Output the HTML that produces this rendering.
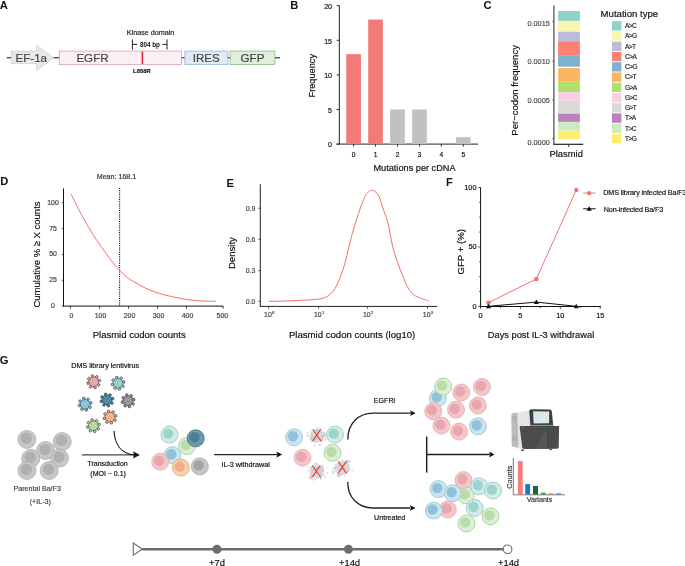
<!DOCTYPE html>
<html><head><meta charset="utf-8"><style>
html,body{margin:0;padding:0;background:#fff;overflow:hidden;}
svg{display:block;}
</style></head><body>
<svg width="685" height="566" viewBox="0 0 685 566" font-family="'Liberation Sans', Arial, sans-serif">
<rect width="685" height="566" fill="#fff"/>
<text x="-0.3" y="8.6" font-size="11.2" text-anchor="start" fill="#111" font-weight="bold">A</text>
<text x="290.3" y="8.7" font-size="11.2" text-anchor="start" fill="#111" font-weight="bold">B</text>
<text x="483.5" y="8.7" font-size="11.2" text-anchor="start" fill="#111" font-weight="bold">C</text>
<text x="0.3" y="185.4" font-size="11.2" text-anchor="start" fill="#111" font-weight="bold">D</text>
<text x="226.4" y="187.0" font-size="11.2" text-anchor="start" fill="#111" font-weight="bold">E</text>
<text x="446.1" y="185.6" font-size="11.2" text-anchor="start" fill="#111" font-weight="bold">F</text>
<text x="-0.2" y="364.2" font-size="11.2" text-anchor="start" fill="#111" font-weight="bold">G</text>
<line x1="6.8" y1="57.7" x2="12" y2="57.7" stroke="#555" stroke-width="1.4"/>
<path d="M11.3 51.2 H36.5 V45.2 L53.7 57.7 L36.5 70.4 V63.6 H11.3 Z" fill="#e8e8e8" stroke="#c4c4c4" stroke-width="0.6"/>
<text x="15.5" y="61.9" font-size="11.6" text-anchor="start" fill="#444" stroke="#444" stroke-width="0.18">EF-1a</text>
<line x1="53.5" y1="57.7" x2="59.4" y2="57.7" stroke="#555" stroke-width="1.4"/>
<rect x="59.4" y="51.1" width="122.1" height="13.5" fill="#fcf0f4" stroke="#d9aab9" stroke-width="0.9"/>
<text x="76.4" y="61.9" font-size="11.6" text-anchor="start" fill="#444" stroke="#444" stroke-width="0.18">EGFR</text>
<line x1="142.4" y1="51.6" x2="142.4" y2="64.1" stroke="#e8262f" stroke-width="1.6"/>
<text x="141.9" y="73.3" font-size="5.9" text-anchor="middle" fill="#111" font-weight="bold" stroke="#111" stroke-width="0.15">L858R</text>
<text x="126.8" y="35.3" font-size="7.2" text-anchor="start" fill="#222" stroke="#222" stroke-width="0.18">Kinase domain</text>
<line x1="132.4" y1="39.4" x2="132.4" y2="49.6" stroke="#222" stroke-width="1.0"/>
<line x1="132.4" y1="44.4" x2="137.2" y2="44.4" stroke="#222" stroke-width="1.0"/>
<line x1="162.4" y1="44.4" x2="167.0" y2="44.4" stroke="#222" stroke-width="1.0"/>
<line x1="167.0" y1="39.4" x2="167.0" y2="49.6" stroke="#222" stroke-width="1.0"/>
<text x="149.9" y="47.1" font-size="6.3" text-anchor="middle" fill="#111" font-weight="bold">804 bp</text>
<line x1="181.5" y1="57.7" x2="185" y2="57.7" stroke="#555" stroke-width="1.4"/>
<rect x="184.9" y="51.1" width="42.9" height="13.3" fill="#dfebf7" stroke="#9cbad9" stroke-width="0.9"/>
<text x="206.3" y="61.6" font-size="11.6" text-anchor="middle" fill="#444" stroke="#444" stroke-width="0.18">IRES</text>
<line x1="227.8" y1="57.7" x2="230.1" y2="57.7" stroke="#555" stroke-width="1.4"/>
<rect x="230.1" y="51.1" width="44.8" height="13.4" fill="#e0efda" stroke="#97c28d" stroke-width="0.9"/>
<text x="252.5" y="61.6" font-size="11.6" text-anchor="middle" fill="#444" stroke="#444" stroke-width="0.18">GFP</text>
<line x1="274.9" y1="57.7" x2="280" y2="57.7" stroke="#555" stroke-width="1.4"/>
<line x1="339.3" y1="5.3" x2="339.3" y2="144.1" stroke="#222" stroke-width="1"/>
<line x1="336.4" y1="144.1" x2="478" y2="144.1" stroke="#222" stroke-width="1"/>
<line x1="336.6" y1="144.1" x2="339.3" y2="144.1" stroke="#222" stroke-width="0.9"/>
<text x="332.0" y="147.29999999999998" font-size="7.0" text-anchor="end" fill="#111" stroke="#111" stroke-width="0.18">0</text>
<line x1="336.6" y1="109.5" x2="339.3" y2="109.5" stroke="#222" stroke-width="0.9"/>
<text x="332.0" y="112.7" font-size="7.0" text-anchor="end" fill="#111" stroke="#111" stroke-width="0.18">5</text>
<line x1="336.6" y1="74.89999999999999" x2="339.3" y2="74.89999999999999" stroke="#222" stroke-width="0.9"/>
<text x="332.0" y="78.1" font-size="7.0" text-anchor="end" fill="#111" stroke="#111" stroke-width="0.18">10</text>
<line x1="336.6" y1="40.3" x2="339.3" y2="40.3" stroke="#222" stroke-width="0.9"/>
<text x="332.0" y="43.5" font-size="7.0" text-anchor="end" fill="#111" stroke="#111" stroke-width="0.18">15</text>
<line x1="336.6" y1="5.699999999999989" x2="339.3" y2="5.699999999999989" stroke="#222" stroke-width="0.9"/>
<text x="332.0" y="8.899999999999988" font-size="7.0" text-anchor="end" fill="#111" stroke="#111" stroke-width="0.18">20</text>
<rect x="346.25" y="54.14" width="14.7" height="89.96" fill="#f27a77" stroke="none" stroke-width="0"/>
<line x1="353.6" y1="144.1" x2="353.6" y2="146.7" stroke="#222" stroke-width="0.9"/>
<text x="353.6" y="156.6" font-size="6.7" text-anchor="middle" fill="#111" stroke="#111" stroke-width="0.18">0</text>
<rect x="368.2" y="19.539999999999992" width="14.7" height="124.56" fill="#f27a77" stroke="none" stroke-width="0"/>
<line x1="375.55" y1="144.1" x2="375.55" y2="146.7" stroke="#222" stroke-width="0.9"/>
<text x="375.55" y="156.6" font-size="6.7" text-anchor="middle" fill="#111" stroke="#111" stroke-width="0.18">1</text>
<rect x="390.15" y="109.5" width="14.7" height="34.6" fill="#c2c0c1" stroke="none" stroke-width="0"/>
<line x1="397.5" y1="144.1" x2="397.5" y2="146.7" stroke="#222" stroke-width="0.9"/>
<text x="397.5" y="156.6" font-size="6.7" text-anchor="middle" fill="#111" stroke="#111" stroke-width="0.18">2</text>
<rect x="412.1" y="109.5" width="14.7" height="34.6" fill="#c2c0c1" stroke="none" stroke-width="0"/>
<line x1="419.45000000000005" y1="144.1" x2="419.45000000000005" y2="146.7" stroke="#222" stroke-width="0.9"/>
<text x="419.45000000000005" y="156.6" font-size="6.7" text-anchor="middle" fill="#111" stroke="#111" stroke-width="0.18">3</text>
<line x1="441.40000000000003" y1="144.1" x2="441.40000000000003" y2="146.7" stroke="#222" stroke-width="0.9"/>
<text x="441.40000000000003" y="156.6" font-size="6.7" text-anchor="middle" fill="#111" stroke="#111" stroke-width="0.18">4</text>
<rect x="456.0" y="137.18" width="14.7" height="6.92" fill="#c2c0c1" stroke="none" stroke-width="0"/>
<line x1="463.35" y1="144.1" x2="463.35" y2="146.7" stroke="#222" stroke-width="0.9"/>
<text x="463.35" y="156.6" font-size="6.7" text-anchor="middle" fill="#111" stroke="#111" stroke-width="0.18">5</text>
<text x="414.5" y="171.2" font-size="9.2" text-anchor="middle" fill="#111" stroke="#111" stroke-width="0.18">Mutations per cDNA</text>
<text x="314.8" y="75.7" font-size="9.2" text-anchor="middle" fill="#111" stroke="#111" stroke-width="0.18" transform="rotate(-90 314.8 75.7)">Frequency</text>
<line x1="553.9" y1="5.4" x2="553.9" y2="144.3" stroke="#555" stroke-width="1.3"/>
<line x1="553.3" y1="144.3" x2="583.3" y2="144.3" stroke="#222" stroke-width="1.2"/>
<line x1="568.8" y1="144.3" x2="568.8" y2="147" stroke="#222" stroke-width="0.9"/>
<line x1="552.5" y1="21.6" x2="553.9" y2="21.6" stroke="#333" stroke-width="0.9"/>
<text x="549.8" y="26.0" font-size="7.3" text-anchor="end" fill="#4d4d4d" stroke="#4d4d4d" stroke-width="0.18">0.0015</text>
<line x1="552.5" y1="61.2" x2="553.9" y2="61.2" stroke="#333" stroke-width="0.9"/>
<text x="549.8" y="63.5" font-size="7.3" text-anchor="end" fill="#4d4d4d" stroke="#4d4d4d" stroke-width="0.18">0.0010</text>
<line x1="552.5" y1="99.9" x2="553.9" y2="99.9" stroke="#333" stroke-width="0.9"/>
<text x="549.8" y="102.80000000000001" font-size="7.3" text-anchor="end" fill="#4d4d4d" stroke="#4d4d4d" stroke-width="0.18">0.0005</text>
<line x1="552.5" y1="138.5" x2="553.9" y2="138.5" stroke="#333" stroke-width="0.9"/>
<text x="549.8" y="144.9" font-size="7.3" text-anchor="end" fill="#4d4d4d" stroke="#4d4d4d" stroke-width="0.18">0.0000</text>
<rect x="558.1" y="11.0" width="21.8" height="9.899999999999999" fill="#8DD3C7" stroke="none" stroke-width="0"/>
<rect x="558.1" y="20.9" width="21.8" height="10.900000000000002" fill="#F9F6B2" stroke="none" stroke-width="0"/>
<rect x="558.1" y="31.8" width="21.8" height="9.499999999999996" fill="#BEBADA" stroke="none" stroke-width="0"/>
<rect x="558.1" y="41.3" width="21.8" height="14.5" fill="#FB8072" stroke="none" stroke-width="0"/>
<rect x="558.1" y="55.8" width="21.8" height="10.900000000000006" fill="#80B1D3" stroke="none" stroke-width="0"/>
<rect x="558.1" y="68.1" width="21.8" height="13.100000000000009" fill="#FDB462" stroke="none" stroke-width="0"/>
<rect x="558.1" y="81.2" width="21.8" height="11.0" fill="#B3DE69" stroke="none" stroke-width="0"/>
<rect x="558.1" y="92.2" width="21.8" height="8.399999999999991" fill="#FCCDE5" stroke="none" stroke-width="0"/>
<rect x="558.1" y="100.6" width="21.8" height="13.100000000000009" fill="#D9D9D9" stroke="none" stroke-width="0"/>
<rect x="558.1" y="113.7" width="21.8" height="8.200000000000003" fill="#BC80BD" stroke="none" stroke-width="0"/>
<rect x="558.1" y="121.9" width="21.8" height="8.799999999999983" fill="#CCEBC5" stroke="none" stroke-width="0"/>
<rect x="558.1" y="130.7" width="21.8" height="8.200000000000017" fill="#FFED6F" stroke="none" stroke-width="0"/>
<text x="566.2" y="157.1" font-size="9.4" text-anchor="middle" fill="#111" stroke="#111" stroke-width="0.18">Plasmid</text>
<text x="517.9" y="90.4" font-size="9.5" text-anchor="middle" fill="#111" stroke="#111" stroke-width="0.18" transform="rotate(-90 517.9 90.4)">Per−codon frequency</text>
<text x="600.6" y="16.5" font-size="9.6" text-anchor="start" fill="#111" stroke="#111" stroke-width="0.18">Mutation type</text>
<rect x="612" y="21.2" width="9.4" height="9.3" fill="#8DD3C7" stroke="none" stroke-width="0"/>
<text x="624.9" y="28.2" font-size="6.5" text-anchor="start" fill="#222" stroke="#222" stroke-width="0.18" letter-spacing="-0.45">A&gt;C</text>
<rect x="612" y="31.45" width="9.4" height="9.3" fill="#F9F6B2" stroke="none" stroke-width="0"/>
<text x="624.9" y="38.45" font-size="6.5" text-anchor="start" fill="#222" stroke="#222" stroke-width="0.18" letter-spacing="-0.45">A&gt;G</text>
<rect x="612" y="41.7" width="9.4" height="9.3" fill="#BEBADA" stroke="none" stroke-width="0"/>
<text x="624.9" y="48.7" font-size="6.5" text-anchor="start" fill="#222" stroke="#222" stroke-width="0.18" letter-spacing="-0.45">A&gt;T</text>
<rect x="612" y="51.95" width="9.4" height="9.3" fill="#FB8072" stroke="none" stroke-width="0"/>
<text x="624.9" y="58.95" font-size="6.5" text-anchor="start" fill="#222" stroke="#222" stroke-width="0.18" letter-spacing="-0.45">C&gt;A</text>
<rect x="612" y="62.2" width="9.4" height="9.3" fill="#80B1D3" stroke="none" stroke-width="0"/>
<text x="624.9" y="69.2" font-size="6.5" text-anchor="start" fill="#222" stroke="#222" stroke-width="0.18" letter-spacing="-0.45">C&gt;G</text>
<rect x="612" y="72.45" width="9.4" height="9.3" fill="#FDB462" stroke="none" stroke-width="0"/>
<text x="624.9" y="79.45" font-size="6.5" text-anchor="start" fill="#222" stroke="#222" stroke-width="0.18" letter-spacing="-0.45">C&gt;T</text>
<rect x="612" y="82.7" width="9.4" height="9.3" fill="#B3DE69" stroke="none" stroke-width="0"/>
<text x="624.9" y="89.7" font-size="6.5" text-anchor="start" fill="#222" stroke="#222" stroke-width="0.18" letter-spacing="-0.45">G&gt;A</text>
<rect x="612" y="92.95" width="9.4" height="9.3" fill="#FCCDE5" stroke="none" stroke-width="0"/>
<text x="624.9" y="99.95" font-size="6.5" text-anchor="start" fill="#222" stroke="#222" stroke-width="0.18" letter-spacing="-0.45">G&gt;C</text>
<rect x="612" y="103.2" width="9.4" height="9.3" fill="#D9D9D9" stroke="none" stroke-width="0"/>
<text x="624.9" y="110.2" font-size="6.5" text-anchor="start" fill="#222" stroke="#222" stroke-width="0.18" letter-spacing="-0.45">G&gt;T</text>
<rect x="612" y="113.45" width="9.4" height="9.3" fill="#BC80BD" stroke="none" stroke-width="0"/>
<text x="624.9" y="120.45" font-size="6.5" text-anchor="start" fill="#222" stroke="#222" stroke-width="0.18" letter-spacing="-0.45">T&gt;A</text>
<rect x="612" y="123.7" width="9.4" height="9.3" fill="#CCEBC5" stroke="none" stroke-width="0"/>
<text x="624.9" y="130.7" font-size="6.5" text-anchor="start" fill="#222" stroke="#222" stroke-width="0.18" letter-spacing="-0.45">T&gt;C</text>
<rect x="612" y="133.95" width="9.4" height="9.3" fill="#FFED6F" stroke="none" stroke-width="0"/>
<text x="624.9" y="140.95" font-size="6.5" text-anchor="start" fill="#222" stroke="#222" stroke-width="0.18" letter-spacing="-0.45">T&gt;G</text>
<line x1="63.5" y1="188.4" x2="63.5" y2="306.1" stroke="#111" stroke-width="1"/>
<line x1="63.0" y1="306.1" x2="223.1" y2="306.1" stroke="#111" stroke-width="1"/>
<line x1="223.1" y1="306.1" x2="223.1" y2="308.6" stroke="#111" stroke-width="0.9"/>
<line x1="61.9" y1="306.1" x2="63.5" y2="306.1" stroke="#111" stroke-width="0.8"/>
<text x="53.0" y="308.1" font-size="6.9" text-anchor="middle" fill="#444" stroke="#444" stroke-width="0.18">0</text>
<line x1="61.9" y1="280.26500000000004" x2="63.5" y2="280.26500000000004" stroke="#111" stroke-width="0.8"/>
<text x="53.0" y="282.26500000000004" font-size="6.9" text-anchor="middle" fill="#444" stroke="#444" stroke-width="0.18">25</text>
<line x1="61.9" y1="254.43" x2="63.5" y2="254.43" stroke="#111" stroke-width="0.8"/>
<text x="53.0" y="256.43" font-size="6.9" text-anchor="middle" fill="#444" stroke="#444" stroke-width="0.18">50</text>
<line x1="61.9" y1="228.59500000000003" x2="63.5" y2="228.59500000000003" stroke="#111" stroke-width="0.8"/>
<text x="53.0" y="230.59500000000003" font-size="6.9" text-anchor="middle" fill="#444" stroke="#444" stroke-width="0.18">75</text>
<line x1="61.9" y1="202.76000000000002" x2="63.5" y2="202.76000000000002" stroke="#111" stroke-width="0.8"/>
<text x="53.0" y="204.76000000000002" font-size="6.9" text-anchor="middle" fill="#444" stroke="#444" stroke-width="0.18">100</text>
<line x1="70.5" y1="306.1" x2="70.5" y2="308.6" stroke="#111" stroke-width="0.8"/>
<text x="71.5" y="317.7" font-size="6.9" text-anchor="middle" fill="#444" stroke="#444" stroke-width="0.18">0</text>
<line x1="99.5" y1="306.1" x2="99.5" y2="308.6" stroke="#111" stroke-width="0.8"/>
<text x="100.5" y="317.7" font-size="6.9" text-anchor="middle" fill="#444" stroke="#444" stroke-width="0.18">100</text>
<line x1="128.5" y1="306.1" x2="128.5" y2="308.6" stroke="#111" stroke-width="0.8"/>
<text x="129.5" y="317.7" font-size="6.9" text-anchor="middle" fill="#444" stroke="#444" stroke-width="0.18">200</text>
<line x1="157.5" y1="306.1" x2="157.5" y2="308.6" stroke="#111" stroke-width="0.8"/>
<text x="158.5" y="317.7" font-size="6.9" text-anchor="middle" fill="#444" stroke="#444" stroke-width="0.18">300</text>
<line x1="186.5" y1="306.1" x2="186.5" y2="308.6" stroke="#111" stroke-width="0.8"/>
<text x="187.5" y="317.7" font-size="6.9" text-anchor="middle" fill="#444" stroke="#444" stroke-width="0.18">400</text>
<text x="222.3" y="317.7" font-size="6.9" text-anchor="middle" fill="#444" stroke="#444" stroke-width="0.18">500</text>
<line x1="119.6" y1="188" x2="119.6" y2="306" stroke="#000" stroke-width="1.1" stroke-dasharray="1 1.2"/>
<text x="116.5" y="179.0" font-size="7.1" text-anchor="middle" fill="#333" stroke="#333" stroke-width="0.18">Mean: 168.1</text>
<path d="M71.0 194.0 C72.65 197.25 77.92 207.87 80.9 213.5 C83.88 219.13 86.25 223.30 88.9 227.8 C91.55 232.30 94.15 236.52 96.8 240.5 C99.45 244.48 102.15 248.07 104.8 251.7 C107.45 255.33 110.28 259.25 112.7 262.3 C115.12 265.35 117.25 267.80 119.3 270 C121.35 272.20 123.03 273.82 125 275.5 C126.97 277.18 127.42 277.87 131.1 280.1 C134.78 282.33 141.75 286.50 147.1 288.9 C152.45 291.30 157.85 292.97 163.2 294.5 C168.55 296.03 173.85 297.10 179.2 298.1 C184.55 299.10 189.18 299.95 195.3 300.5 C201.42 301.05 212.47 301.25 215.9 301.4" fill="none" stroke="#f26f6b" stroke-width="1.0"/>
<text x="139.2" y="337.6" font-size="9.5" text-anchor="middle" fill="#111" stroke="#111" stroke-width="0.18">Plasmid codon counts</text>
<text x="40.4" y="254.5" font-size="9.5" text-anchor="middle" fill="#111" stroke="#111" stroke-width="0.18" transform="rotate(-90 40.4 254.5)">Cumulative % ≥ X counts</text>
<line x1="260.3" y1="184.2" x2="260.3" y2="306.4" stroke="#222" stroke-width="1"/>
<line x1="259.8" y1="306.4" x2="437.2" y2="306.4" stroke="#222" stroke-width="1"/>
<line x1="258.4" y1="301.3" x2="260.3" y2="301.3" stroke="#222" stroke-width="0.8"/>
<text x="255.4" y="303.7" font-size="6.9" text-anchor="end" fill="#444" stroke="#444" stroke-width="0.18">0.0</text>
<line x1="258.4" y1="270.6" x2="260.3" y2="270.6" stroke="#222" stroke-width="0.8"/>
<text x="255.4" y="273.0" font-size="6.9" text-anchor="end" fill="#444" stroke="#444" stroke-width="0.18">0.3</text>
<line x1="258.4" y1="239.3" x2="260.3" y2="239.3" stroke="#222" stroke-width="0.8"/>
<text x="255.4" y="241.70000000000002" font-size="6.9" text-anchor="end" fill="#444" stroke="#444" stroke-width="0.18">0.6</text>
<line x1="258.4" y1="208.2" x2="260.3" y2="208.2" stroke="#222" stroke-width="0.8"/>
<text x="255.4" y="210.6" font-size="6.9" text-anchor="end" fill="#444" stroke="#444" stroke-width="0.18">0.9</text>
<line x1="268.7" y1="306.4" x2="268.7" y2="308.6" stroke="#222" stroke-width="0.8"/>
<text x="267.9" y="316.8" font-size="6.9" text-anchor="middle" fill="#444" stroke="#444" stroke-width="0.18">10</text>
<text x="272.0" y="314.0" font-size="4.2" text-anchor="start" fill="#444" stroke="#444" stroke-width="0.18">0</text>
<line x1="318.6" y1="306.4" x2="318.6" y2="308.6" stroke="#222" stroke-width="0.8"/>
<text x="317.8" y="316.8" font-size="6.9" text-anchor="middle" fill="#444" stroke="#444" stroke-width="0.18">10</text>
<text x="321.90000000000003" y="314.0" font-size="4.2" text-anchor="start" fill="#444" stroke="#444" stroke-width="0.18">1</text>
<line x1="367.6" y1="306.4" x2="367.6" y2="308.6" stroke="#222" stroke-width="0.8"/>
<text x="366.8" y="316.8" font-size="6.9" text-anchor="middle" fill="#444" stroke="#444" stroke-width="0.18">10</text>
<text x="370.90000000000003" y="314.0" font-size="4.2" text-anchor="start" fill="#444" stroke="#444" stroke-width="0.18">2</text>
<line x1="427.5" y1="306.4" x2="427.5" y2="308.6" stroke="#222" stroke-width="0.8"/>
<text x="426.7" y="316.8" font-size="6.9" text-anchor="middle" fill="#444" stroke="#444" stroke-width="0.18">10</text>
<text x="430.8" y="314.0" font-size="4.2" text-anchor="start" fill="#444" stroke="#444" stroke-width="0.18">3</text>
<path d="M268.7 301.3 C270.58 301.28 276.45 301.28 280 301.2 C283.55 301.12 286.67 300.93 290 300.8 C293.33 300.67 296.67 300.55 300 300.4 C303.33 300.25 306.80 300.13 310 299.9 C313.20 299.67 316.52 299.47 319.2 299 C321.88 298.53 323.80 298.37 326.1 297.1 C328.40 295.83 330.90 294.07 333 291.4 C335.10 288.73 336.80 285.50 338.7 281.1 C340.60 276.70 342.68 270.75 344.4 265 C346.12 259.25 347.65 251.97 349 246.6 C350.35 241.23 350.97 238.17 352.5 232.8 C354.03 227.43 356.10 220.52 358.2 214.4 C360.30 208.28 363.22 199.92 365.1 196.1 C366.98 192.28 368.35 192.47 369.5 191.5 C370.65 190.53 371.08 190.30 372 190.3 C372.92 190.30 373.85 190.53 375 191.5 C376.15 192.47 377.48 193.03 378.9 196.1 C380.32 199.17 381.97 205.32 383.5 209.9 C385.03 214.48 386.57 217.48 388.1 223.6 C389.63 229.72 391.17 240.28 392.7 246.6 C394.23 252.92 395.58 256.52 397.3 261.5 C399.02 266.48 401.08 271.90 403 276.5 C404.92 281.10 406.70 285.85 408.8 289.1 C410.90 292.35 412.27 294.03 415.6 296 C418.93 297.97 426.60 300.08 428.8 300.9" fill="none" stroke="#f26f6b" stroke-width="1.0"/>
<text x="352.1" y="337.5" font-size="9.6" text-anchor="middle" fill="#111" stroke="#111" stroke-width="0.18">Plasmid codon counts (log10)</text>
<text x="235.3" y="253.1" font-size="9.6" text-anchor="middle" fill="#111" stroke="#111" stroke-width="0.18" transform="rotate(-90 235.3 253.1)">Density</text>
<line x1="480.6" y1="187.4" x2="480.6" y2="306.5" stroke="#111" stroke-width="1"/>
<line x1="480.6" y1="306.5" x2="600.8" y2="306.5" stroke="#111" stroke-width="1"/>
<line x1="478.4" y1="306.3" x2="480.6" y2="306.3" stroke="#111" stroke-width="0.8"/>
<line x1="479.2" y1="291.45" x2="480.6" y2="291.45" stroke="#111" stroke-width="0.8"/>
<line x1="479.2" y1="276.6" x2="480.6" y2="276.6" stroke="#111" stroke-width="0.8"/>
<line x1="479.2" y1="261.75" x2="480.6" y2="261.75" stroke="#111" stroke-width="0.8"/>
<line x1="478.4" y1="246.9" x2="480.6" y2="246.9" stroke="#111" stroke-width="0.8"/>
<line x1="479.2" y1="232.05" x2="480.6" y2="232.05" stroke="#111" stroke-width="0.8"/>
<line x1="479.2" y1="217.20000000000002" x2="480.6" y2="217.20000000000002" stroke="#111" stroke-width="0.8"/>
<line x1="479.2" y1="202.35000000000002" x2="480.6" y2="202.35000000000002" stroke="#111" stroke-width="0.8"/>
<line x1="478.4" y1="187.5" x2="480.6" y2="187.5" stroke="#111" stroke-width="0.8"/>
<text x="476.5" y="308.7" font-size="7.3" text-anchor="end" fill="#111" stroke="#111" stroke-width="0.18">0</text>
<text x="476.5" y="249.3" font-size="7.3" text-anchor="end" fill="#111" stroke="#111" stroke-width="0.18">50</text>
<text x="476.5" y="189.9" font-size="7.3" text-anchor="end" fill="#111" stroke="#111" stroke-width="0.18">100</text>
<line x1="480.5" y1="306.5" x2="480.5" y2="308.8" stroke="#111" stroke-width="0.8"/>
<line x1="500.45" y1="306.5" x2="500.45" y2="308.0" stroke="#111" stroke-width="0.8"/>
<line x1="520.4" y1="306.5" x2="520.4" y2="308.8" stroke="#111" stroke-width="0.8"/>
<line x1="540.35" y1="306.5" x2="540.35" y2="308.0" stroke="#111" stroke-width="0.8"/>
<line x1="560.3" y1="306.5" x2="560.3" y2="308.8" stroke="#111" stroke-width="0.8"/>
<line x1="580.25" y1="306.5" x2="580.25" y2="308.0" stroke="#111" stroke-width="0.8"/>
<line x1="600.2" y1="306.5" x2="600.2" y2="308.8" stroke="#111" stroke-width="0.8"/>
<text x="480.5" y="317.7" font-size="7.3" text-anchor="middle" fill="#111" stroke="#111" stroke-width="0.18">0</text>
<text x="520.4" y="317.7" font-size="7.3" text-anchor="middle" fill="#111" stroke="#111" stroke-width="0.18">5</text>
<text x="560.3" y="317.7" font-size="7.3" text-anchor="middle" fill="#111" stroke="#111" stroke-width="0.18">10</text>
<text x="600.2" y="317.7" font-size="7.3" text-anchor="middle" fill="#111" stroke="#111" stroke-width="0.18">15</text>
<polyline points="488.5,302.7 536.4,279.0 576.3,189.9" fill="none" stroke="#f07472" stroke-width="1"/>
<polyline points="488.5,306.3 536.4,302.1 576.3,306.3" fill="none" stroke="#111" stroke-width="1"/>
<circle cx="488.5" cy="302.7" r="2.2" fill="#f07472"/>
<circle cx="536.4" cy="279.0" r="2.2" fill="#f07472"/>
<circle cx="576.3" cy="189.9" r="2.2" fill="#f07472"/>
<path d="M488.48 303.7 L491.08000000000004 308.25 L485.88 308.25 Z" fill="#111"/>
<path d="M536.36 299.542 L538.96 304.092 L533.76 304.092 Z" fill="#111"/>
<path d="M576.26 303.7 L578.86 308.25 L573.66 308.25 Z" fill="#111"/>
<line x1="583.2" y1="193.1" x2="595.6" y2="193.1" stroke="#f07472" stroke-width="1"/>
<circle cx="589.2" cy="193.1" r="2.2" fill="#f07472"/>
<line x1="583.2" y1="208.8" x2="595.6" y2="208.8" stroke="#111" stroke-width="1"/>
<path d="M589.2 206.20000000000002 L591.8000000000001 210.75 L586.6 210.75 Z" fill="#111"/>
<text x="603.2" y="195.3" font-size="7.2" text-anchor="start" fill="#111" stroke="#111" stroke-width="0.18" letter-spacing="-0.1">DMS library infected Ba/F3</text>
<text x="603.8" y="211.5" font-size="7.2" text-anchor="start" fill="#111" stroke="#111" stroke-width="0.18" letter-spacing="-0.15">Non-infected Ba/F3</text>
<text x="541.0" y="337.5" font-size="9.3" text-anchor="middle" fill="#111" stroke="#111" stroke-width="0.18">Days post IL-3 withdrawal</text>
<text x="463.6" y="251.8" font-size="9.6" text-anchor="middle" fill="#111" stroke="#111" stroke-width="0.18" transform="rotate(-90 463.6 251.8)">GFP + (%)</text>
<text x="71.2" y="368.0" font-size="7.2" text-anchor="start" fill="#111" stroke="#111" stroke-width="0.18">DMS library lentivirus</text>
<circle cx="93.7" cy="381.8" r="5.2" fill="#eaa8ae" stroke="#505050" stroke-width="0.35"/>
<rect x="91.20" y="374.95" width="2.4" height="2.4" rx="0.5" fill="#eaa8ae" stroke="#333" stroke-width="0.6" transform="rotate(-103 92.40 376.15)"/><rect x="95.57" y="375.68" width="2.4" height="2.4" rx="0.5" fill="#eaa8ae" stroke="#333" stroke-width="0.6" transform="rotate(-58 96.77 376.88)"/><rect x="98.15" y="379.30" width="2.4" height="2.4" rx="0.5" fill="#eaa8ae" stroke="#333" stroke-width="0.6" transform="rotate(-13 99.35 380.50)"/><rect x="97.42" y="383.67" width="2.4" height="2.4" rx="0.5" fill="#eaa8ae" stroke="#333" stroke-width="0.6" transform="rotate(32 98.62 384.87)"/><rect x="93.80" y="386.25" width="2.4" height="2.4" rx="0.5" fill="#eaa8ae" stroke="#333" stroke-width="0.6" transform="rotate(77 95.00 387.45)"/><rect x="89.43" y="385.52" width="2.4" height="2.4" rx="0.5" fill="#eaa8ae" stroke="#333" stroke-width="0.6" transform="rotate(122 90.63 386.72)"/><rect x="86.85" y="381.90" width="2.4" height="2.4" rx="0.5" fill="#eaa8ae" stroke="#333" stroke-width="0.6" transform="rotate(167 88.05 383.10)"/><rect x="87.58" y="377.53" width="2.4" height="2.4" rx="0.5" fill="#eaa8ae" stroke="#333" stroke-width="0.6" transform="rotate(212 88.78 378.73)"/>
<circle cx="118.1" cy="383.2" r="5.2" fill="#97d1cb" stroke="#505050" stroke-width="0.35"/>
<rect x="115.60" y="376.35" width="2.4" height="2.4" rx="0.5" fill="#97d1cb" stroke="#333" stroke-width="0.6" transform="rotate(-103 116.80 377.55)"/><rect x="119.97" y="377.08" width="2.4" height="2.4" rx="0.5" fill="#97d1cb" stroke="#333" stroke-width="0.6" transform="rotate(-58 121.17 378.28)"/><rect x="122.55" y="380.70" width="2.4" height="2.4" rx="0.5" fill="#97d1cb" stroke="#333" stroke-width="0.6" transform="rotate(-13 123.75 381.90)"/><rect x="121.82" y="385.07" width="2.4" height="2.4" rx="0.5" fill="#97d1cb" stroke="#333" stroke-width="0.6" transform="rotate(32 123.02 386.27)"/><rect x="118.20" y="387.65" width="2.4" height="2.4" rx="0.5" fill="#97d1cb" stroke="#333" stroke-width="0.6" transform="rotate(77 119.40 388.85)"/><rect x="113.83" y="386.92" width="2.4" height="2.4" rx="0.5" fill="#97d1cb" stroke="#333" stroke-width="0.6" transform="rotate(122 115.03 388.12)"/><rect x="111.25" y="383.30" width="2.4" height="2.4" rx="0.5" fill="#97d1cb" stroke="#333" stroke-width="0.6" transform="rotate(167 112.45 384.50)"/><rect x="111.98" y="378.93" width="2.4" height="2.4" rx="0.5" fill="#97d1cb" stroke="#333" stroke-width="0.6" transform="rotate(212 113.18 380.13)"/>
<circle cx="107.0" cy="400.0" r="5.2" fill="#4f8aa0" stroke="#505050" stroke-width="0.35"/>
<rect x="104.50" y="393.15" width="2.4" height="2.4" rx="0.5" fill="#4f8aa0" stroke="#333" stroke-width="0.6" transform="rotate(-103 105.70 394.35)"/><rect x="108.87" y="393.88" width="2.4" height="2.4" rx="0.5" fill="#4f8aa0" stroke="#333" stroke-width="0.6" transform="rotate(-58 110.07 395.08)"/><rect x="111.45" y="397.50" width="2.4" height="2.4" rx="0.5" fill="#4f8aa0" stroke="#333" stroke-width="0.6" transform="rotate(-13 112.65 398.70)"/><rect x="110.72" y="401.87" width="2.4" height="2.4" rx="0.5" fill="#4f8aa0" stroke="#333" stroke-width="0.6" transform="rotate(32 111.92 403.07)"/><rect x="107.10" y="404.45" width="2.4" height="2.4" rx="0.5" fill="#4f8aa0" stroke="#333" stroke-width="0.6" transform="rotate(77 108.30 405.65)"/><rect x="102.73" y="403.72" width="2.4" height="2.4" rx="0.5" fill="#4f8aa0" stroke="#333" stroke-width="0.6" transform="rotate(122 103.93 404.92)"/><rect x="100.15" y="400.10" width="2.4" height="2.4" rx="0.5" fill="#4f8aa0" stroke="#333" stroke-width="0.6" transform="rotate(167 101.35 401.30)"/><rect x="100.88" y="395.73" width="2.4" height="2.4" rx="0.5" fill="#4f8aa0" stroke="#333" stroke-width="0.6" transform="rotate(212 102.08 396.93)"/>
<circle cx="128.1" cy="400.8" r="5.2" fill="#9a9a9a" stroke="#505050" stroke-width="0.35"/>
<rect x="125.60" y="393.95" width="2.4" height="2.4" rx="0.5" fill="#9a9a9a" stroke="#333" stroke-width="0.6" transform="rotate(-103 126.80 395.15)"/><rect x="129.97" y="394.68" width="2.4" height="2.4" rx="0.5" fill="#9a9a9a" stroke="#333" stroke-width="0.6" transform="rotate(-58 131.17 395.88)"/><rect x="132.55" y="398.30" width="2.4" height="2.4" rx="0.5" fill="#9a9a9a" stroke="#333" stroke-width="0.6" transform="rotate(-13 133.75 399.50)"/><rect x="131.82" y="402.67" width="2.4" height="2.4" rx="0.5" fill="#9a9a9a" stroke="#333" stroke-width="0.6" transform="rotate(32 133.02 403.87)"/><rect x="128.20" y="405.25" width="2.4" height="2.4" rx="0.5" fill="#9a9a9a" stroke="#333" stroke-width="0.6" transform="rotate(77 129.40 406.45)"/><rect x="123.83" y="404.52" width="2.4" height="2.4" rx="0.5" fill="#9a9a9a" stroke="#333" stroke-width="0.6" transform="rotate(122 125.03 405.72)"/><rect x="121.25" y="400.90" width="2.4" height="2.4" rx="0.5" fill="#9a9a9a" stroke="#333" stroke-width="0.6" transform="rotate(167 122.45 402.10)"/><rect x="121.98" y="396.53" width="2.4" height="2.4" rx="0.5" fill="#9a9a9a" stroke="#333" stroke-width="0.6" transform="rotate(212 123.18 397.73)"/>
<circle cx="85.1" cy="404.2" r="5.2" fill="#8ac4dd" stroke="#505050" stroke-width="0.35"/>
<rect x="82.60" y="397.35" width="2.4" height="2.4" rx="0.5" fill="#8ac4dd" stroke="#333" stroke-width="0.6" transform="rotate(-103 83.80 398.55)"/><rect x="86.97" y="398.08" width="2.4" height="2.4" rx="0.5" fill="#8ac4dd" stroke="#333" stroke-width="0.6" transform="rotate(-58 88.17 399.28)"/><rect x="89.55" y="401.70" width="2.4" height="2.4" rx="0.5" fill="#8ac4dd" stroke="#333" stroke-width="0.6" transform="rotate(-13 90.75 402.90)"/><rect x="88.82" y="406.07" width="2.4" height="2.4" rx="0.5" fill="#8ac4dd" stroke="#333" stroke-width="0.6" transform="rotate(32 90.02 407.27)"/><rect x="85.20" y="408.65" width="2.4" height="2.4" rx="0.5" fill="#8ac4dd" stroke="#333" stroke-width="0.6" transform="rotate(77 86.40 409.85)"/><rect x="80.83" y="407.92" width="2.4" height="2.4" rx="0.5" fill="#8ac4dd" stroke="#333" stroke-width="0.6" transform="rotate(122 82.03 409.12)"/><rect x="78.25" y="404.30" width="2.4" height="2.4" rx="0.5" fill="#8ac4dd" stroke="#333" stroke-width="0.6" transform="rotate(167 79.45 405.50)"/><rect x="78.98" y="399.93" width="2.4" height="2.4" rx="0.5" fill="#8ac4dd" stroke="#333" stroke-width="0.6" transform="rotate(212 80.18 401.13)"/>
<circle cx="110.0" cy="417.1" r="5.2" fill="#f6b48a" stroke="#505050" stroke-width="0.35"/>
<rect x="107.50" y="410.25" width="2.4" height="2.4" rx="0.5" fill="#f6b48a" stroke="#333" stroke-width="0.6" transform="rotate(-103 108.70 411.45)"/><rect x="111.87" y="410.98" width="2.4" height="2.4" rx="0.5" fill="#f6b48a" stroke="#333" stroke-width="0.6" transform="rotate(-58 113.07 412.18)"/><rect x="114.45" y="414.60" width="2.4" height="2.4" rx="0.5" fill="#f6b48a" stroke="#333" stroke-width="0.6" transform="rotate(-13 115.65 415.80)"/><rect x="113.72" y="418.97" width="2.4" height="2.4" rx="0.5" fill="#f6b48a" stroke="#333" stroke-width="0.6" transform="rotate(32 114.92 420.17)"/><rect x="110.10" y="421.55" width="2.4" height="2.4" rx="0.5" fill="#f6b48a" stroke="#333" stroke-width="0.6" transform="rotate(77 111.30 422.75)"/><rect x="105.73" y="420.82" width="2.4" height="2.4" rx="0.5" fill="#f6b48a" stroke="#333" stroke-width="0.6" transform="rotate(122 106.93 422.02)"/><rect x="103.15" y="417.20" width="2.4" height="2.4" rx="0.5" fill="#f6b48a" stroke="#333" stroke-width="0.6" transform="rotate(167 104.35 418.40)"/><rect x="103.88" y="412.83" width="2.4" height="2.4" rx="0.5" fill="#f6b48a" stroke="#333" stroke-width="0.6" transform="rotate(212 105.08 414.03)"/>
<circle cx="93.4" cy="425.7" r="5.2" fill="#b3d8a5" stroke="#505050" stroke-width="0.35"/>
<rect x="90.90" y="418.85" width="2.4" height="2.4" rx="0.5" fill="#b3d8a5" stroke="#333" stroke-width="0.6" transform="rotate(-103 92.10 420.05)"/><rect x="95.27" y="419.58" width="2.4" height="2.4" rx="0.5" fill="#b3d8a5" stroke="#333" stroke-width="0.6" transform="rotate(-58 96.47 420.78)"/><rect x="97.85" y="423.20" width="2.4" height="2.4" rx="0.5" fill="#b3d8a5" stroke="#333" stroke-width="0.6" transform="rotate(-13 99.05 424.40)"/><rect x="97.12" y="427.57" width="2.4" height="2.4" rx="0.5" fill="#b3d8a5" stroke="#333" stroke-width="0.6" transform="rotate(32 98.32 428.77)"/><rect x="93.50" y="430.15" width="2.4" height="2.4" rx="0.5" fill="#b3d8a5" stroke="#333" stroke-width="0.6" transform="rotate(77 94.70 431.35)"/><rect x="89.13" y="429.42" width="2.4" height="2.4" rx="0.5" fill="#b3d8a5" stroke="#333" stroke-width="0.6" transform="rotate(122 90.33 430.62)"/><rect x="86.55" y="425.80" width="2.4" height="2.4" rx="0.5" fill="#b3d8a5" stroke="#333" stroke-width="0.6" transform="rotate(167 87.75 427.00)"/><rect x="87.28" y="421.43" width="2.4" height="2.4" rx="0.5" fill="#b3d8a5" stroke="#333" stroke-width="0.6" transform="rotate(212 88.48 422.63)"/>
<circle cx="26.9" cy="439.4" r="9.0" fill="#c7c7c7" stroke="#adadad" stroke-width="0.8"/>
<circle cx="26.3" cy="438.3" r="5.7" fill="#b0b0ad"/>
<circle cx="62.2" cy="441.6" r="9.0" fill="#c7c7c7" stroke="#adadad" stroke-width="0.8"/>
<circle cx="61.6" cy="440.5" r="5.7" fill="#b0b0ad"/>
<circle cx="45.5" cy="450.5" r="9.0" fill="#c7c7c7" stroke="#adadad" stroke-width="0.8"/>
<circle cx="44.9" cy="449.4" r="5.7" fill="#b0b0ad"/>
<circle cx="30.8" cy="458.3" r="9.0" fill="#c7c7c7" stroke="#adadad" stroke-width="0.8"/>
<circle cx="30.2" cy="457.2" r="5.7" fill="#b0b0ad"/>
<circle cx="59.5" cy="458.1" r="9.0" fill="#c7c7c7" stroke="#adadad" stroke-width="0.8"/>
<circle cx="58.9" cy="457.0" r="5.7" fill="#b0b0ad"/>
<circle cx="26.9" cy="470.5" r="9.0" fill="#c7c7c7" stroke="#adadad" stroke-width="0.8"/>
<circle cx="26.3" cy="469.4" r="5.7" fill="#b0b0ad"/>
<circle cx="49.2" cy="470.5" r="9.0" fill="#c7c7c7" stroke="#adadad" stroke-width="0.8"/>
<circle cx="48.6" cy="469.4" r="5.7" fill="#b0b0ad"/>
<text x="37.2" y="490.7" font-size="7.1" text-anchor="middle" fill="#444" stroke="#444" stroke-width="0.18">Parental Ba/F3</text>
<text x="40.3" y="504.3" font-size="7.1" text-anchor="middle" fill="#444" stroke="#444" stroke-width="0.18">(+IL-3)</text>
<line x1="81.9" y1="454.9" x2="134.5" y2="454.9" stroke="#444" stroke-width="1.3"/>
<path d="M114.1 430.9 C114.6 444 121 453.5 134.5 454.9" fill="none" stroke="#111" stroke-width="1.1"/>
<path d="M139.9 454.9 L132.9 451.2 L134.20000000000002 454.9 L132.9 458.59999999999997 Z" fill="#111"/>
<text x="107.6" y="466.4" font-size="7.0" text-anchor="middle" fill="#111" stroke="#111" stroke-width="0.18">Transduction</text>
<text x="108.1" y="476.0" font-size="7.0" text-anchor="middle" fill="#111" stroke="#111" stroke-width="0.18">(MOI ~ 0.1)</text>
<circle cx="169.4" cy="434.6" r="8.5" fill="#d4ebe8" stroke="#86ccc1" stroke-width="0.8"/>
<circle cx="168.2" cy="433.6" r="5.2" fill="#9fd3ce"/>
<circle cx="187.0" cy="446.0" r="8.5" fill="#dcefd5" stroke="#9ccd8e" stroke-width="0.8"/>
<circle cx="185.8" cy="445.0" r="5.2" fill="#b9dcab"/>
<circle cx="195.7" cy="438.3" r="8.5" fill="#6b9cae" stroke="#3f6c7e" stroke-width="0.8"/>
<circle cx="194.5" cy="437.3" r="5.2" fill="#4b8096"/>
<circle cx="172.5" cy="455.2" r="8.5" fill="#cbe4ee" stroke="#94c1d4" stroke-width="0.8"/>
<circle cx="171.3" cy="454.2" r="5.2" fill="#8ec3d9"/>
<circle cx="160.2" cy="461.7" r="8.5" fill="#f4c6ca" stroke="#e6a9b0" stroke-width="0.8"/>
<circle cx="159.0" cy="460.7" r="5.2" fill="#e8a7ad"/>
<circle cx="180.9" cy="467.6" r="8.5" fill="#f6d1a9" stroke="#e3a86f" stroke-width="0.8"/>
<circle cx="179.7" cy="466.6" r="5.2" fill="#f3ae86"/>
<circle cx="199.8" cy="466.4" r="8.5" fill="#c6c6c6" stroke="#a8a8a8" stroke-width="0.8"/>
<circle cx="198.6" cy="465.4" r="5.2" fill="#a4a4a4"/>
<line x1="214.1" y1="454.6" x2="278" y2="454.6" stroke="#222" stroke-width="1.3"/>
<path d="M282.1 454.6 L276.3 451.40000000000003 L277.6 454.6 L276.3 457.8 Z" fill="#111"/>
<text x="245.6" y="466.6" font-size="7.2" text-anchor="middle" fill="#111" stroke="#111" stroke-width="0.18">IL-3 withdrawal</text>
<ellipse cx="317.1" cy="435.7" rx="7.2" ry="6.8" fill="#d4d6d8"/><circle cx="321.23" cy="440.15" r="2.07" fill="#d9dbdc"/><circle cx="321.22" cy="439.25" r="1.66" fill="#c6c8ca"/><circle cx="316.98" cy="434.72" r="1.04" fill="#c6c8ca"/><circle cx="311.32" cy="437.74" r="1.00" fill="#c6c8ca"/><circle cx="316.15" cy="441.38" r="1.83" fill="#d2d4d6"/><circle cx="317.00" cy="435.27" r="1.04" fill="#dfe0e1"/><circle cx="323.73" cy="435.78" r="1.96" fill="#c6c8ca"/><circle cx="316.17" cy="431.49" r="2.07" fill="#c6c8ca"/><circle cx="314.23" cy="434.55" r="1.95" fill="#c6c8ca"/><circle cx="323.77" cy="433.35" r="1.58" fill="#dfe0e1"/><circle cx="317.50" cy="435.05" r="1.88" fill="#d9dbdc"/><circle cx="318.70" cy="437.12" r="2.01" fill="#dfe0e1"/><circle cx="319.86" cy="434.17" r="2.16" fill="#cbcdcf"/><circle cx="315.28" cy="439.56" r="2.24" fill="#dfe0e1"/><circle cx="311.53" cy="439.37" r="1.67" fill="#c6c8ca"/><circle cx="315.63" cy="436.07" r="1.77" fill="#d9dbdc"/><circle cx="321.27" cy="437.97" r="1.15" fill="#cbcdcf"/><circle cx="313.73" cy="435.01" r="1.69" fill="#d2d4d6"/><circle cx="314.42" cy="435.84" r="2.19" fill="#dfe0e1"/><circle cx="314.22" cy="433.77" r="1.24" fill="#dfe0e1"/><circle cx="316.81" cy="435.49" r="1.28" fill="#dfe0e1"/><circle cx="317.25" cy="439.23" r="2.33" fill="#dfe0e1"/><circle cx="312.47" cy="440.84" r="1.92" fill="#dfe0e1"/><circle cx="316.84" cy="435.39" r="2.10" fill="#dfe0e1"/><circle cx="318.28" cy="431.78" r="1.79" fill="#c6c8ca"/><circle cx="320.40" cy="434.28" r="1.51" fill="#dfe0e1"/><circle cx="318.03" cy="439.00" r="1.68" fill="#d9dbdc"/><circle cx="316.79" cy="435.41" r="1.76" fill="#dfe0e1"/><circle cx="314.49" cy="439.33" r="2.13" fill="#cbcdcf"/><circle cx="315.45" cy="434.97" r="1.13" fill="#dfe0e1"/><circle cx="318.67" cy="429.54" r="1.36" fill="#d2d4d6"/><circle cx="316.91" cy="435.46" r="1.02" fill="#d9dbdc"/><circle cx="316.80" cy="436.22" r="1.87" fill="#d9dbdc"/><circle cx="316.47" cy="436.62" r="1.36" fill="#cbcdcf"/><circle cx="313.97" cy="431.35" r="1.41" fill="#d9dbdc"/><circle cx="315.90" cy="435.42" r="1.44" fill="#d9dbdc"/><circle cx="315.50" cy="436.07" r="1.15" fill="#dfe0e1"/><circle cx="324.32" cy="434.35" r="1.60" fill="#d2d4d6"/><circle cx="317.28" cy="438.34" r="1.05" fill="#cbcdcf"/><circle cx="313.04" cy="436.67" r="1.60" fill="#cbcdcf"/><rect x="326.75" y="434.13" width="1.39" height="1.39" fill="#c4c6c8"/><rect x="318.49" y="444.13" width="1.18" height="1.18" fill="#d6d8da"/><rect x="320.14" y="427.02" width="1.20" height="1.20" fill="#d6d8da"/><rect x="313.51" y="444.54" width="1.51" height="1.51" fill="#c4c6c8"/><rect x="324.57" y="438.64" width="1.54" height="1.54" fill="#c4c6c8"/><rect x="316.43" y="427.09" width="1.08" height="1.08" fill="#cdd0d2"/><rect x="306.93" y="431.93" width="1.31" height="1.31" fill="#cdd0d2"/><rect x="326.42" y="433.36" width="1.02" height="1.02" fill="#d6d8da"/><rect x="310.71" y="430.20" width="1.04" height="1.04" fill="#cdd0d2"/><rect x="319.59" y="443.97" width="1.20" height="1.20" fill="#cdd0d2"/><rect x="305.95" y="435.86" width="1.17" height="1.17" fill="#d6d8da"/><rect x="307.55" y="435.41" width="1.51" height="1.51" fill="#c4c6c8"/><rect x="325.67" y="436.29" width="1.13" height="1.13" fill="#d6d8da"/><rect x="318.70" y="427.43" width="1.05" height="1.05" fill="#d6d8da"/><rect x="324.52" y="440.09" width="1.28" height="1.28" fill="#d6d8da"/><rect x="306.63" y="433.45" width="1.27" height="1.27" fill="#cdd0d2"/><rect x="315.48" y="427.93" width="1.02" height="1.02" fill="#d6d8da"/><rect x="319.20" y="444.26" width="1.32" height="1.32" fill="#c4c6c8"/>
<path d="M312.7 429.2 L321.1 441.29999999999995 M320.8 429.2 L312.7 441.09999999999997" stroke="#e9353e" stroke-width="1.1" fill="none"/>
<ellipse cx="316.7" cy="471.7" rx="7.2" ry="6.8" fill="#d4d6d8"/><circle cx="323.58" cy="469.46" r="1.08" fill="#d2d4d6"/><circle cx="315.54" cy="472.37" r="2.13" fill="#d9dbdc"/><circle cx="316.38" cy="472.99" r="1.05" fill="#cbcdcf"/><circle cx="321.43" cy="471.39" r="2.13" fill="#dfe0e1"/><circle cx="320.47" cy="470.12" r="1.62" fill="#d9dbdc"/><circle cx="321.98" cy="467.60" r="1.51" fill="#d9dbdc"/><circle cx="319.19" cy="469.66" r="2.24" fill="#cbcdcf"/><circle cx="314.67" cy="470.74" r="1.03" fill="#d9dbdc"/><circle cx="318.26" cy="474.79" r="1.50" fill="#dfe0e1"/><circle cx="315.75" cy="470.19" r="2.25" fill="#c6c8ca"/><circle cx="315.70" cy="464.63" r="2.07" fill="#dfe0e1"/><circle cx="311.71" cy="477.25" r="2.35" fill="#cbcdcf"/><circle cx="319.42" cy="470.56" r="2.03" fill="#dfe0e1"/><circle cx="316.40" cy="473.49" r="1.70" fill="#dfe0e1"/><circle cx="317.77" cy="469.09" r="2.24" fill="#c6c8ca"/><circle cx="313.02" cy="475.79" r="1.78" fill="#c6c8ca"/><circle cx="314.66" cy="471.54" r="1.45" fill="#cbcdcf"/><circle cx="319.87" cy="468.17" r="2.08" fill="#c6c8ca"/><circle cx="313.64" cy="478.08" r="1.99" fill="#dfe0e1"/><circle cx="312.71" cy="469.95" r="1.86" fill="#c6c8ca"/><circle cx="315.78" cy="472.84" r="1.72" fill="#dfe0e1"/><circle cx="320.96" cy="467.43" r="1.48" fill="#d2d4d6"/><circle cx="317.66" cy="470.61" r="2.04" fill="#d2d4d6"/><circle cx="316.06" cy="471.23" r="1.83" fill="#d2d4d6"/><circle cx="316.43" cy="470.38" r="1.37" fill="#cbcdcf"/><circle cx="316.85" cy="471.24" r="2.26" fill="#d2d4d6"/><circle cx="319.06" cy="472.34" r="1.35" fill="#d2d4d6"/><circle cx="322.92" cy="474.96" r="1.04" fill="#d2d4d6"/><circle cx="315.70" cy="472.09" r="2.31" fill="#cbcdcf"/><circle cx="316.38" cy="471.40" r="1.83" fill="#cbcdcf"/><circle cx="316.57" cy="471.62" r="1.48" fill="#dfe0e1"/><circle cx="312.31" cy="467.37" r="1.40" fill="#c6c8ca"/><circle cx="319.87" cy="472.05" r="2.07" fill="#d2d4d6"/><circle cx="321.26" cy="468.13" r="2.21" fill="#cbcdcf"/><circle cx="314.65" cy="471.69" r="1.93" fill="#d9dbdc"/><circle cx="316.50" cy="471.25" r="2.10" fill="#cbcdcf"/><circle cx="310.29" cy="470.73" r="1.68" fill="#d9dbdc"/><circle cx="321.08" cy="477.05" r="1.36" fill="#dfe0e1"/><circle cx="321.46" cy="470.50" r="1.98" fill="#cbcdcf"/><circle cx="315.45" cy="469.73" r="1.18" fill="#cbcdcf"/><rect x="324.70" y="476.40" width="1.26" height="1.26" fill="#d6d8da"/><rect x="326.48" y="467.52" width="1.06" height="1.06" fill="#c4c6c8"/><rect x="324.11" y="474.76" width="1.06" height="1.06" fill="#d6d8da"/><rect x="314.12" y="463.71" width="1.20" height="1.20" fill="#d6d8da"/><rect x="316.44" y="463.69" width="1.17" height="1.17" fill="#cdd0d2"/><rect x="324.29" y="477.20" width="1.07" height="1.07" fill="#cdd0d2"/><rect x="326.69" y="472.53" width="0.97" height="0.97" fill="#cdd0d2"/><rect x="306.86" y="470.30" width="1.12" height="1.12" fill="#d6d8da"/><rect x="308.97" y="477.52" width="1.43" height="1.43" fill="#cdd0d2"/><rect x="315.14" y="463.12" width="1.26" height="1.26" fill="#d6d8da"/><rect x="307.40" y="466.30" width="1.55" height="1.55" fill="#d6d8da"/><rect x="320.02" y="478.28" width="1.46" height="1.46" fill="#c4c6c8"/><rect x="327.24" y="472.57" width="0.98" height="0.98" fill="#c4c6c8"/><rect x="313.70" y="480.73" width="1.16" height="1.16" fill="#cdd0d2"/><rect x="323.08" y="465.50" width="0.97" height="0.97" fill="#cdd0d2"/><rect x="321.88" y="463.90" width="0.91" height="0.91" fill="#c4c6c8"/><rect x="325.77" y="474.65" width="1.22" height="1.22" fill="#d6d8da"/><rect x="310.04" y="466.57" width="0.92" height="0.92" fill="#c4c6c8"/>
<path d="M312.29999999999995 465.2 L320.7 477.29999999999995 M320.4 465.2 L312.29999999999995 477.09999999999997" stroke="#e9353e" stroke-width="1.1" fill="none"/>
<ellipse cx="342.6" cy="467.90000000000003" rx="7.2" ry="6.8" fill="#d4d6d8"/><circle cx="342.62" cy="471.67" r="1.52" fill="#dfe0e1"/><circle cx="337.79" cy="468.31" r="1.85" fill="#c6c8ca"/><circle cx="342.19" cy="469.35" r="2.39" fill="#c6c8ca"/><circle cx="338.11" cy="466.55" r="1.56" fill="#cbcdcf"/><circle cx="342.44" cy="468.73" r="2.30" fill="#c6c8ca"/><circle cx="342.01" cy="462.57" r="1.09" fill="#dfe0e1"/><circle cx="348.22" cy="469.15" r="2.15" fill="#d9dbdc"/><circle cx="336.72" cy="468.52" r="2.23" fill="#c6c8ca"/><circle cx="337.32" cy="471.28" r="1.62" fill="#cbcdcf"/><circle cx="342.86" cy="467.10" r="1.19" fill="#cbcdcf"/><circle cx="342.03" cy="472.63" r="2.09" fill="#d9dbdc"/><circle cx="336.53" cy="470.57" r="1.80" fill="#dfe0e1"/><circle cx="338.34" cy="465.37" r="2.27" fill="#d2d4d6"/><circle cx="347.14" cy="461.77" r="1.94" fill="#cbcdcf"/><circle cx="341.48" cy="465.28" r="1.76" fill="#dfe0e1"/><circle cx="337.20" cy="465.35" r="1.30" fill="#dfe0e1"/><circle cx="342.20" cy="468.53" r="1.67" fill="#c6c8ca"/><circle cx="347.65" cy="470.77" r="1.57" fill="#cbcdcf"/><circle cx="345.64" cy="468.00" r="1.58" fill="#d2d4d6"/><circle cx="346.95" cy="468.86" r="1.06" fill="#dfe0e1"/><circle cx="338.92" cy="473.37" r="2.37" fill="#dfe0e1"/><circle cx="342.33" cy="467.87" r="1.01" fill="#d2d4d6"/><circle cx="342.10" cy="467.46" r="1.28" fill="#c6c8ca"/><circle cx="341.76" cy="469.51" r="1.97" fill="#d9dbdc"/><circle cx="339.35" cy="474.22" r="2.26" fill="#c6c8ca"/><circle cx="337.40" cy="472.16" r="1.54" fill="#dfe0e1"/><circle cx="341.96" cy="466.90" r="2.36" fill="#dfe0e1"/><circle cx="341.63" cy="472.31" r="2.00" fill="#d9dbdc"/><circle cx="340.42" cy="468.34" r="1.42" fill="#d9dbdc"/><circle cx="345.56" cy="467.82" r="1.81" fill="#d2d4d6"/><circle cx="338.99" cy="470.69" r="1.19" fill="#d9dbdc"/><circle cx="337.07" cy="468.67" r="1.49" fill="#d9dbdc"/><circle cx="342.29" cy="467.43" r="1.08" fill="#d2d4d6"/><circle cx="344.23" cy="467.17" r="1.64" fill="#dfe0e1"/><circle cx="341.18" cy="466.81" r="1.26" fill="#d9dbdc"/><circle cx="343.46" cy="465.95" r="2.10" fill="#d2d4d6"/><circle cx="342.33" cy="467.40" r="1.80" fill="#cbcdcf"/><circle cx="341.65" cy="469.15" r="2.13" fill="#cbcdcf"/><circle cx="339.79" cy="472.09" r="1.91" fill="#d2d4d6"/><circle cx="344.33" cy="469.04" r="1.47" fill="#cbcdcf"/><rect x="332.44" y="471.12" width="1.02" height="1.02" fill="#c4c6c8"/><rect x="341.85" y="459.75" width="1.30" height="1.30" fill="#c4c6c8"/><rect x="343.66" y="475.14" width="1.27" height="1.27" fill="#cdd0d2"/><rect x="338.08" y="476.12" width="1.30" height="1.30" fill="#c4c6c8"/><rect x="336.63" y="475.42" width="0.96" height="0.96" fill="#d6d8da"/><rect x="337.37" y="473.93" width="1.10" height="1.10" fill="#c4c6c8"/><rect x="332.48" y="469.54" width="1.10" height="1.10" fill="#d6d8da"/><rect x="333.18" y="472.70" width="1.01" height="1.01" fill="#cdd0d2"/><rect x="331.82" y="468.92" width="1.34" height="1.34" fill="#d6d8da"/><rect x="332.32" y="471.43" width="1.55" height="1.55" fill="#cdd0d2"/><rect x="351.70" y="469.30" width="1.43" height="1.43" fill="#d6d8da"/><rect x="333.21" y="466.64" width="1.14" height="1.14" fill="#cdd0d2"/><rect x="349.17" y="460.47" width="1.58" height="1.58" fill="#cdd0d2"/><rect x="345.45" y="460.66" width="1.53" height="1.53" fill="#d6d8da"/><rect x="333.41" y="467.00" width="1.52" height="1.52" fill="#c4c6c8"/><rect x="334.83" y="464.16" width="1.42" height="1.42" fill="#cdd0d2"/><rect x="333.27" y="467.44" width="0.91" height="0.91" fill="#d6d8da"/><rect x="332.99" y="472.51" width="1.33" height="1.33" fill="#c4c6c8"/>
<path d="M338.2 461.40000000000003 L346.6 473.5 M346.3 461.40000000000003 L338.2 473.3" stroke="#e9353e" stroke-width="1.1" fill="none"/>
<circle cx="294.1" cy="437.3" r="8.5" fill="#cbe4ee" stroke="#94c1d4" stroke-width="0.8"/>
<circle cx="292.9" cy="436.3" r="5.2" fill="#8ec3d9"/>
<circle cx="335.0" cy="434.6" r="8.5" fill="#d4ebe8" stroke="#86ccc1" stroke-width="0.8"/>
<circle cx="333.8" cy="433.6" r="5.2" fill="#9fd3ce"/>
<circle cx="302.5" cy="457.7" r="8.5" fill="#f4c6ca" stroke="#e6a9b0" stroke-width="0.8"/>
<circle cx="301.3" cy="456.7" r="5.2" fill="#e8a7ad"/>
<circle cx="332.5" cy="452.8" r="8.5" fill="#dcefd5" stroke="#9ccd8e" stroke-width="0.8"/>
<circle cx="331.3" cy="451.8" r="5.2" fill="#b9dcab"/>
<path d="M347.8 439.4 C347.8 424 358 413.2 373 413.2 L411 413.2" fill="none" stroke="#222" stroke-width="1.3"/>
<path d="M415.6 413.2 L410.0 410.3 L411.3 413.2 L410.0 416.09999999999997 Z" fill="#111"/>
<path d="M347.7 482 C347.7 497.5 358 508 373 508 L410.5 508" fill="none" stroke="#222" stroke-width="1.3"/>
<path d="M415.4 508 L409.79999999999995 505.1 L411.09999999999997 508 L409.79999999999995 510.9 Z" fill="#111"/>
<text x="384.5" y="402.9" font-size="7.1" text-anchor="middle" fill="#111" stroke="#111" stroke-width="0.18">EGFRi</text>
<text x="389.7" y="520.0" font-size="7.1" text-anchor="middle" fill="#111" stroke="#111" stroke-width="0.18">Untreated</text>
<circle cx="437.9" cy="398.1" r="8.5" fill="#cbe4ee" stroke="#94c1d4" stroke-width="0.8"/>
<circle cx="436.7" cy="397.1" r="5.2" fill="#8ec3d9"/>
<circle cx="443.2" cy="386.6" r="8.5" fill="#dcefd5" stroke="#9ccd8e" stroke-width="0.8"/>
<circle cx="442.0" cy="385.6" r="5.2" fill="#b9dcab"/>
<circle cx="461.3" cy="392.5" r="8.5" fill="#f4c6ca" stroke="#e6a9b0" stroke-width="0.8"/>
<circle cx="460.1" cy="391.5" r="5.2" fill="#e8a7ad"/>
<circle cx="482.0" cy="387.0" r="8.5" fill="#f4c6ca" stroke="#e6a9b0" stroke-width="0.8"/>
<circle cx="480.8" cy="386.0" r="5.2" fill="#e8a7ad"/>
<circle cx="433.2" cy="411.3" r="8.5" fill="#f4c6ca" stroke="#e6a9b0" stroke-width="0.8"/>
<circle cx="432.0" cy="410.3" r="5.2" fill="#e8a7ad"/>
<circle cx="456.0" cy="409.7" r="8.5" fill="#f4c6ca" stroke="#e6a9b0" stroke-width="0.8"/>
<circle cx="454.8" cy="408.7" r="5.2" fill="#e8a7ad"/>
<circle cx="477.9" cy="405.5" r="8.5" fill="#f4c6ca" stroke="#e6a9b0" stroke-width="0.8"/>
<circle cx="476.7" cy="404.5" r="5.2" fill="#e8a7ad"/>
<circle cx="441.5" cy="425.6" r="8.5" fill="#f4c6ca" stroke="#e6a9b0" stroke-width="0.8"/>
<circle cx="440.3" cy="424.6" r="5.2" fill="#e8a7ad"/>
<circle cx="459.1" cy="431.6" r="8.5" fill="#f4c6ca" stroke="#e6a9b0" stroke-width="0.8"/>
<circle cx="457.9" cy="430.6" r="5.2" fill="#e8a7ad"/>
<circle cx="477.9" cy="426.3" r="8.5" fill="#cbe4ee" stroke="#94c1d4" stroke-width="0.8"/>
<circle cx="476.7" cy="425.3" r="5.2" fill="#8ec3d9"/>
<circle cx="465.7" cy="495.3" r="8.5" fill="#dcefd5" stroke="#9ccd8e" stroke-width="0.8"/>
<circle cx="464.5" cy="494.3" r="5.2" fill="#b9dcab"/>
<circle cx="438.5" cy="489.1" r="8.5" fill="#cbe4ee" stroke="#94c1d4" stroke-width="0.8"/>
<circle cx="437.3" cy="488.1" r="5.2" fill="#8ec3d9"/>
<circle cx="463.5" cy="480.1" r="8.5" fill="#f4c6ca" stroke="#e6a9b0" stroke-width="0.8"/>
<circle cx="462.3" cy="479.1" r="5.2" fill="#e8a7ad"/>
<circle cx="452.8" cy="493.2" r="8.5" fill="#cbe4ee" stroke="#94c1d4" stroke-width="0.8"/>
<circle cx="451.6" cy="492.2" r="5.2" fill="#8ec3d9"/>
<circle cx="479.1" cy="486.3" r="8.5" fill="#d4ebe8" stroke="#86ccc1" stroke-width="0.8"/>
<circle cx="477.9" cy="485.3" r="5.2" fill="#9fd3ce"/>
<circle cx="493.0" cy="490.6" r="8.5" fill="#d4ebe8" stroke="#86ccc1" stroke-width="0.8"/>
<circle cx="491.8" cy="489.6" r="5.2" fill="#9fd3ce"/>
<circle cx="447.8" cy="509.5" r="8.5" fill="#f4c6ca" stroke="#e6a9b0" stroke-width="0.8"/>
<circle cx="446.6" cy="508.5" r="5.2" fill="#e8a7ad"/>
<circle cx="433.8" cy="510.5" r="8.5" fill="#cbe4ee" stroke="#94c1d4" stroke-width="0.8"/>
<circle cx="432.6" cy="509.5" r="5.2" fill="#8ec3d9"/>
<circle cx="474.7" cy="508.0" r="8.5" fill="#d4ebe8" stroke="#86ccc1" stroke-width="0.8"/>
<circle cx="473.5" cy="507.0" r="5.2" fill="#9fd3ce"/>
<circle cx="490.5" cy="516.3" r="8.5" fill="#dcefd5" stroke="#9ccd8e" stroke-width="0.8"/>
<circle cx="489.3" cy="515.3" r="5.2" fill="#b9dcab"/>
<circle cx="466.4" cy="523.4" r="8.5" fill="#dcefd5" stroke="#9ccd8e" stroke-width="0.8"/>
<circle cx="465.2" cy="522.4" r="5.2" fill="#b9dcab"/>
<line x1="426.7" y1="436.6" x2="426.7" y2="472.6" stroke="#222" stroke-width="1.5"/>
<line x1="426.7" y1="454.5" x2="490" y2="454.5" stroke="#222" stroke-width="1.3"/>
<path d="M494.6 454.5 L489.0 451.6 L490.3 454.5 L489.0 457.4 Z" fill="#111"/>
<g>
<path d="M511.4 415.2 Q511.5 413.4 513.2 413.1 L518 412.6 L530.5 410.6 L530.5 426 L519.6 426 L522.8 449 Q516 448.6 511.8 446.2 Z" fill="#e5e5e5"/>
<path d="M511.4 415.2 Q511.5 413.4 513.2 413.1 L517.4 412.7 L518.4 447.6 Q514.2 447 511.8 446.2 Z" fill="#bcbcbc"/>
<path d="M512.5 417 L516.8 416.2 M512.5 419 L516.8 418.3 M512.5 421 L516.8 420.4 M512.5 436 L517.2 436 M512.5 438 L517.2 438 M512.5 440 L517.2 440" stroke="#9a9a9a" stroke-width="0.6"/>
<path d="M529.3 411.2 Q529.4 409.3 531.4 409.3 L549.8 409.4 Q551.6 409.5 551.8 411.4 L553.3 426 L530.4 426 Z" fill="#3e3e3e"/>
<path d="M533.1 411.2 L549.2 411.5 L549.1 423.2 L533.6 423.4 Z" fill="#d8e7eb"/>
<path d="M536 423 L549 411.6 L549.1 413 L538 423 Z" fill="#e1ecef"/>
<rect x="530.5" y="424.9" width="22.8" height="1.3" fill="#6d9ca2"/>
<path d="M519.6 426.8 Q519.6 425.9 520.8 425.9 L559.1 426.1 L558.7 447.6 Q558.6 448.7 557.4 448.7 L523.8 449.0 Q522.5 449 522.3 447.6 Z" fill="#4c4c4c"/>
<path d="M547.3 427 L547.3 448.8 L535.6 448.8 Z" fill="#575757"/>
<line x1="547.4" y1="426.2" x2="547.4" y2="448.8" stroke="#3a3a3a" stroke-width="0.5"/>
<circle cx="522.8" cy="427.8" r="0.5" fill="#7aa"/>
<ellipse cx="522.6" cy="450.2" rx="1.5" ry="0.9" fill="#555"/>
<ellipse cx="550.7" cy="449.4" rx="1.5" ry="0.8" fill="#555"/>
</g>
<line x1="513.3" y1="457.9" x2="513.3" y2="494.8" stroke="#777" stroke-width="1"/>
<line x1="513.3" y1="494.8" x2="564.9" y2="494.8" stroke="#777" stroke-width="1"/>
<rect x="517.9" y="461.1" width="4.800000000000068" height="33.39999999999998" fill="#f47c7c" stroke="none" stroke-width="0"/>
<rect x="525.2" y="484.1" width="4.899999999999977" height="10.399999999999977" fill="#2474c4" stroke="none" stroke-width="0"/>
<rect x="533.0" y="486.0" width="5.0" height="8.5" fill="#0f6b3a" stroke="none" stroke-width="0"/>
<rect x="540.9" y="492.6" width="4.800000000000068" height="1.8999999999999773" fill="#2eaa60" stroke="none" stroke-width="0"/>
<rect x="548.2" y="493.3" width="5.099999999999909" height="1.1999999999999886" fill="#d89a3a" stroke="none" stroke-width="0"/>
<rect x="556.0" y="493.3" width="5.100000000000023" height="1.1999999999999886" fill="#3a8fc8" stroke="none" stroke-width="0"/>
<text x="511.8" y="477.2" font-size="7.3" text-anchor="middle" fill="#333" stroke="#333" stroke-width="0.18" transform="rotate(-90 511.8 477.2)">Counts</text>
<text x="539.6" y="502.0" font-size="7.1" text-anchor="middle" fill="#333" stroke="#333" stroke-width="0.18">Variants</text>
<path d="M133.3 543 L142.2 549.2 L133.3 555.2 Z" fill="#fff" stroke="#6d6d70" stroke-width="1.1"/>
<line x1="142.2" y1="549.3" x2="503" y2="549.3" stroke="#6d6d70" stroke-width="2.4"/>
<circle cx="217.0" cy="549.3" r="4.5" fill="#6d6d70"/>
<circle cx="348.4" cy="549.3" r="4.5" fill="#6d6d70"/>
<circle cx="507.6" cy="549.3" r="4.3" fill="#fff" stroke="#6d6d70" stroke-width="1.1"/>
<text x="217.0" y="566.3" font-size="9.4" text-anchor="middle" fill="#111" stroke="#111" stroke-width="0.18">+7d</text>
<text x="349.5" y="566.3" font-size="9.4" text-anchor="middle" fill="#111" stroke="#111" stroke-width="0.18">+14d</text>
<text x="508.5" y="566.3" font-size="9.4" text-anchor="middle" fill="#111" stroke="#111" stroke-width="0.18">+14d</text>
</svg>
</body></html>
